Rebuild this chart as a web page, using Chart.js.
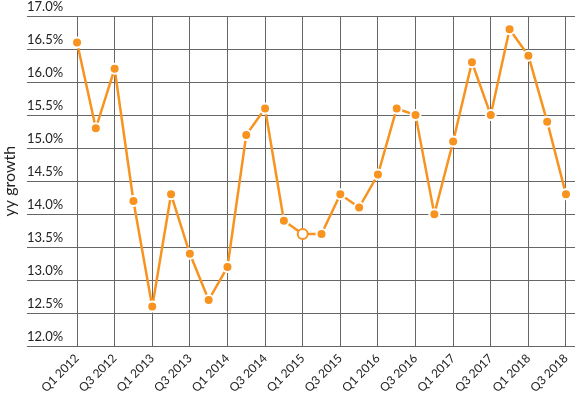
<!DOCTYPE html>
<html><head><meta charset="utf-8">
<script src="https://cdn.jsdelivr.net/npm/chart.js@4"></script>
<style>html,body{margin:0;padding:0;background:#fff}#wrap{width:585px;height:400px;position:relative}</style>
</head><body><div id="wrap"><canvas id="c"></canvas></div>
<script>
const categories = ['Q1 2012','Q2 2012','Q3 2012','Q4 2012','Q1 2013','Q2 2013','Q3 2013','Q4 2013','Q1 2014','Q2 2014','Q3 2014','Q4 2014','Q1 2015','Q2 2015','Q3 2015','Q4 2015','Q1 2016','Q2 2016','Q3 2016','Q4 2016','Q1 2017','Q2 2017','Q3 2017','Q4 2017','Q1 2018','Q2 2018','Q3 2018'];
const growth = [16.6,15.3,16.2,14.2,12.6,14.3,13.4,12.7,13.2,15.2,15.6,13.9,13.7,13.7,14.3,14.1,14.6,15.6,15.5,14.0,15.1,16.3,15.5,16.8,16.4,15.4,14.3];
const yTicks = [12.0,12.5,13.0,13.5,14.0,14.5,15.0,15.5,16.0,16.5,17.0];
const hollowCategories = ['Q1 2015'];
const xLabelCategories = categories.filter((c,i)=>i%2===0);

const ORANGE = '#F7931E';
const GRID = '#666666';
const TEXT = '#222222';
const FONT = 'Lato, "Open Sans", sans-serif';

const points = categories.map((c,i)=>({x:i, y:growth[i]}));
const hollow = categories.map(c=>hollowCategories.includes(c));

new Chart(document.getElementById('c'), {
  type: 'line',
  data: {
    datasets: [{
      label: 'yy growth',
      data: points,
      borderColor: ORANGE,
      borderWidth: 2.5,
      pointRadius: 5,
      pointHoverRadius: 5,
      pointBorderWidth: 2,
      pointBackgroundColor: hollow.map(h=>h?'#ffffff':ORANGE),
      pointBorderColor: hollow.map(h=>h?ORANGE:'#ffffff'),
      tension: 0,
      fill: false
    }]
  },
  options: {
    responsive: true,
    maintainAspectRatio: false,
    animation: false,
    layout: {padding: {left: 0, top: 16, right: 10, bottom: 0}},
    plugins: {legend: {display: false}, tooltip: {enabled: false}},
    scales: {
      x: {
        type: 'linear',
        min: -2.66,
        max: 26.48,
        afterBuildTicks: (s) => { s.ticks = xLabelCategories.map(c=>({value: categories.indexOf(c)})); },
        ticks: {
          autoSkip: false,
          maxRotation: 45, minRotation: 45,
          color: TEXT,
          font: {family: FONT, size: 12},
          padding: 5,
          callback: (v) => categories[v]
        },
        grid: {color: GRID, lineWidth: 1, drawTicks: false},
        border: {display: false}
      },
      y: {
        min: 12, max: 17,
        afterBuildTicks: (s) => { s.ticks = yTicks.map(v=>({value:v})); },
        ticks: {
          mirror: true,
          padding: 0,
          labelOffset: -9,
          color: TEXT,
          font: {family: FONT, size: 13},
          callback: (v) => v.toFixed(1) + '%'
        },
        grid: {color: GRID, lineWidth: 1, drawTicks: false},
        border: {display: false},
        title: {display: true, text: 'yy growth', color: TEXT, font: {family: FONT, size: 16}, padding: {top: 0, bottom: 7.8}}
      }
    }
  }
});
</script>
</body></html>
